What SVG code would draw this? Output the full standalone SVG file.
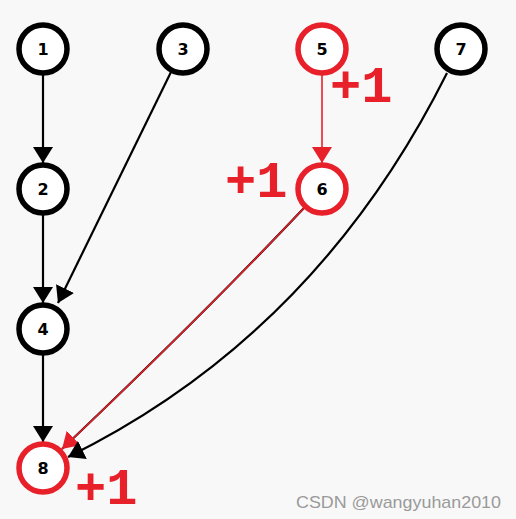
<svg xmlns="http://www.w3.org/2000/svg" width="516" height="519" viewBox="0 0 516 519">
<style>
.n circle{fill:#fff;stroke:#000;stroke-width:5.5}
.n.r circle{stroke:#e8202a}
.n text{font-family:"DejaVu Sans",sans-serif;font-weight:bold;font-size:16px;text-anchor:middle;fill:#000}
.e{fill:none;stroke:#000;stroke-width:2.2}
.er{fill:none;stroke:#e8202a;stroke-width:1.6}
.lbl{font-family:"Liberation Mono",monospace;font-weight:bold;font-size:52px;fill:#e8202a}
.wm{font-family:"Liberation Sans",sans-serif;font-size:17px;fill:#9a9a9a}
</style>
<defs>
<marker id="ab" markerUnits="userSpaceOnUse" markerWidth="17" markerHeight="21" refX="16" refY="10" orient="auto"><path d="M0,0 L16,10 L0,20 z" fill="#000"/></marker>
<marker id="ar" markerUnits="userSpaceOnUse" markerWidth="17" markerHeight="21" refX="16" refY="10" orient="auto"><path d="M0,0 L16,10 L0,20 z" fill="#e8202a"/></marker>
</defs>
<rect width="516" height="519" fill="#f8f8f8"/>
<g id="edges">
<path class="e" d="M43,75 L43,163" marker-end="url(#ab)"/>
<path class="e" d="M43,215 L43,303" marker-end="url(#ab)"/>
<path class="e" d="M43,355 L43,442" marker-end="url(#ab)"/>
<path class="e" d="M171,72 L58,303" marker-end="url(#ab)"/>
<path class="er" d="M322,75 L322,163" marker-end="url(#ar)"/>
<path class="e" d="M304,208 Q200,318 62,449" stroke-width="2.4"/>
<path class="er" d="M304,208 Q200,318 62,449" marker-end="url(#ar)"/>
<path class="e" d="M447,73 Q316,335 68,457" marker-end="url(#ab)"/>
</g>
<g id="n1" class="n"><circle cx="43" cy="49" r="24"/><text x="43" y="55">1</text></g>
<g id="n3" class="n"><circle cx="183" cy="49" r="24"/><text x="183" y="55">3</text></g>
<g id="n5" class="n r"><circle cx="322" cy="49" r="24"/><text x="322" y="55">5</text></g>
<g id="n7" class="n"><circle cx="461" cy="49" r="24"/><text x="461" y="55">7</text></g>
<g id="n2" class="n"><circle cx="43" cy="189" r="24"/><text x="43" y="195">2</text></g>
<g id="n6" class="n r"><circle cx="322" cy="189" r="24"/><text x="322" y="195">6</text></g>
<g id="n4" class="n"><circle cx="43" cy="329" r="24"/><text x="43" y="335">4</text></g>
<g id="n8" class="n r"><circle cx="43" cy="468" r="24"/><text x="43" y="474">8</text></g>
<text class="lbl" x="330" y="102">+1</text>
<text class="lbl" x="225" y="197">+1</text>
<text class="lbl" x="75" y="504" font-size="48">+1</text>
<text class="wm" x="501" y="508" text-anchor="end" textLength="205" lengthAdjust="spacingAndGlyphs">CSDN @wangyuhan2010</text>
</svg>
